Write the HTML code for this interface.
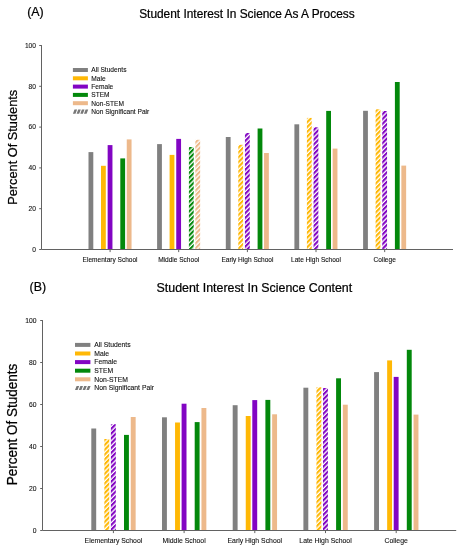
<!DOCTYPE html>
<html><head><meta charset="utf-8"><title>Student Interest</title>
<style>html,body{margin:0;padding:0;background:#fff}svg{display:block}</style></head>
<body>
<svg width="460" height="550" viewBox="0 0 460 550">
<defs>
<pattern id="hg" patternUnits="userSpaceOnUse" width="3.4" height="3.4" patternTransform="rotate(-45)"><rect width="3.4" height="3.4" fill="#fff"/><rect width="3.4" height="2.1" fill="#808080"/></pattern>
<pattern id="ho" patternUnits="userSpaceOnUse" width="3.4" height="3.4" patternTransform="rotate(-45)"><rect width="3.4" height="3.4" fill="#fff"/><rect width="3.4" height="2.1" fill="#FFB805"/></pattern>
<pattern id="hp" patternUnits="userSpaceOnUse" width="3.4" height="3.4" patternTransform="rotate(-45)"><rect width="3.4" height="3.4" fill="#fff"/><rect width="3.4" height="2.1" fill="#8205C3"/></pattern>
<pattern id="hn" patternUnits="userSpaceOnUse" width="3.4" height="3.4" patternTransform="rotate(-45)"><rect width="3.4" height="3.4" fill="#fff"/><rect width="3.4" height="2.1" fill="#03880B"/></pattern>
<pattern id="ht" patternUnits="userSpaceOnUse" width="3.4" height="3.4" patternTransform="rotate(-45)"><rect width="3.4" height="3.4" fill="#fff"/><rect width="3.4" height="2.1" fill="#EDB98B"/></pattern>
<pattern id="hl" patternUnits="userSpaceOnUse" width="2.65" height="2.65" patternTransform="rotate(-45)"><rect width="2.65" height="2.65" fill="#fff"/><rect width="2.65" height="1.9" fill="#777"/></pattern>
</defs>
<rect width="460" height="550" fill="#fff"/>
<rect x="88.50" y="152.10" width="4.8" height="97.40" fill="#808080"/>
<rect x="101.00" y="165.80" width="4.8" height="83.70" fill="#FFB805"/>
<rect x="107.65" y="145.10" width="4.8" height="104.40" fill="#8205C3"/>
<rect x="120.30" y="158.40" width="4.8" height="91.10" fill="#03880B"/>
<rect x="126.75" y="139.40" width="4.8" height="110.10" fill="#EDB98B"/>
<rect x="157.10" y="144.10" width="4.8" height="105.40" fill="#808080"/>
<rect x="169.60" y="154.90" width="4.8" height="94.60" fill="#FFB805"/>
<rect x="176.25" y="138.90" width="4.8" height="110.60" fill="#8205C3"/>
<rect x="188.90" y="147.00" width="4.8" height="102.50" fill="url(#hn)"/>
<rect x="195.35" y="139.80" width="4.8" height="109.70" fill="url(#ht)"/>
<rect x="225.80" y="137.00" width="4.8" height="112.50" fill="#808080"/>
<rect x="238.30" y="144.80" width="4.8" height="104.70" fill="url(#ho)"/>
<rect x="244.95" y="133.00" width="4.8" height="116.50" fill="url(#hp)"/>
<rect x="257.60" y="128.50" width="4.8" height="121.00" fill="#03880B"/>
<rect x="264.05" y="153.00" width="4.8" height="96.50" fill="#EDB98B"/>
<rect x="294.40" y="124.30" width="4.8" height="125.20" fill="#808080"/>
<rect x="306.90" y="117.90" width="4.8" height="131.60" fill="url(#ho)"/>
<rect x="313.55" y="127.30" width="4.8" height="122.20" fill="url(#hp)"/>
<rect x="326.20" y="110.90" width="4.8" height="138.60" fill="#03880B"/>
<rect x="332.65" y="148.60" width="4.8" height="100.90" fill="#EDB98B"/>
<rect x="363.10" y="110.80" width="4.8" height="138.70" fill="#808080"/>
<rect x="375.60" y="109.30" width="4.8" height="140.20" fill="url(#ho)"/>
<rect x="382.25" y="111.00" width="4.8" height="138.50" fill="url(#hp)"/>
<rect x="394.90" y="82.00" width="4.8" height="167.50" fill="#03880B"/>
<rect x="401.35" y="165.60" width="4.8" height="83.90" fill="#EDB98B"/>
<path d="M41.5 45.1V249.5H453" fill="none" stroke="#626262" stroke-width="1"/>
<path d="M39.20 249.50H41.5" stroke="#626262" stroke-width="1"/>
<text x="36.0" y="251.85" text-anchor="end" font-size="6.65" font-family="Liberation Sans, Arial, sans-serif" fill="#111" stroke="#111" stroke-width="0.1">0</text>
<path d="M39.20 208.70H41.5" stroke="#626262" stroke-width="1"/>
<text x="36.0" y="211.05" text-anchor="end" font-size="6.65" font-family="Liberation Sans, Arial, sans-serif" fill="#111" stroke="#111" stroke-width="0.1">20</text>
<path d="M39.20 167.90H41.5" stroke="#626262" stroke-width="1"/>
<text x="36.0" y="170.25" text-anchor="end" font-size="6.65" font-family="Liberation Sans, Arial, sans-serif" fill="#111" stroke="#111" stroke-width="0.1">40</text>
<path d="M39.20 127.10H41.5" stroke="#626262" stroke-width="1"/>
<text x="36.0" y="129.45" text-anchor="end" font-size="6.65" font-family="Liberation Sans, Arial, sans-serif" fill="#111" stroke="#111" stroke-width="0.1">60</text>
<path d="M39.20 86.30H41.5" stroke="#626262" stroke-width="1"/>
<text x="36.0" y="88.65" text-anchor="end" font-size="6.65" font-family="Liberation Sans, Arial, sans-serif" fill="#111" stroke="#111" stroke-width="0.1">80</text>
<path d="M39.20 45.50H41.5" stroke="#626262" stroke-width="1"/>
<text x="36.0" y="47.85" text-anchor="end" font-size="6.65" font-family="Liberation Sans, Arial, sans-serif" fill="#111" stroke="#111" stroke-width="0.1">100</text>
<path d="M110.1 249.5v2.6" stroke="#626262" stroke-width="1"/>
<text x="110.1" y="261.8" text-anchor="middle" font-size="6.55" font-family="Liberation Sans, Arial, sans-serif" fill="#111" stroke="#111" stroke-width="0.1">Elementary School</text>
<path d="M178.7 249.5v2.6" stroke="#626262" stroke-width="1"/>
<text x="178.7" y="261.8" text-anchor="middle" font-size="6.55" font-family="Liberation Sans, Arial, sans-serif" fill="#111" stroke="#111" stroke-width="0.1">Middle School</text>
<path d="M247.4 249.5v2.6" stroke="#626262" stroke-width="1"/>
<text x="247.4" y="261.8" text-anchor="middle" font-size="6.55" font-family="Liberation Sans, Arial, sans-serif" fill="#111" stroke="#111" stroke-width="0.1">Early High School</text>
<path d="M316.0 249.5v2.6" stroke="#626262" stroke-width="1"/>
<text x="316.0" y="261.8" text-anchor="middle" font-size="6.55" font-family="Liberation Sans, Arial, sans-serif" fill="#111" stroke="#111" stroke-width="0.1">Late High School</text>
<path d="M384.7 249.5v2.6" stroke="#626262" stroke-width="1"/>
<text x="384.7" y="261.8" text-anchor="middle" font-size="6.55" font-family="Liberation Sans, Arial, sans-serif" fill="#111" stroke="#111" stroke-width="0.1">College</text>
<text x="27.2" y="15.6" font-size="12.4" font-family="Liberation Sans, Arial, sans-serif" fill="#000" stroke="#000" stroke-width="0.22">(A)</text>
<text x="246.9" y="18.2" text-anchor="middle" font-size="11.9" font-family="Liberation Sans, Arial, sans-serif" fill="#000" stroke="#000" stroke-width="0.22">Student Interest In Science As A Process</text>
<text transform="translate(17.0 147.3) rotate(-90) scale(1 1.05)" text-anchor="middle" font-size="12.8" font-family="Liberation Sans, Arial, sans-serif" fill="#000" stroke="#000" stroke-width="0.22">Percent Of Students</text>
<rect x="72.9" y="68.00" width="15" height="4" fill="#808080"/>
<text x="91.3" y="72.35" font-size="6.6" font-family="Liberation Sans, Arial, sans-serif" fill="#111" stroke="#111" stroke-width="0.1">All Students</text>
<rect x="72.9" y="76.30" width="15" height="4" fill="#FFB805"/>
<text x="91.3" y="80.65" font-size="6.6" font-family="Liberation Sans, Arial, sans-serif" fill="#111" stroke="#111" stroke-width="0.1">Male</text>
<rect x="72.9" y="84.60" width="15" height="4" fill="#8205C3"/>
<text x="91.3" y="88.95" font-size="6.6" font-family="Liberation Sans, Arial, sans-serif" fill="#111" stroke="#111" stroke-width="0.1">Female</text>
<rect x="72.9" y="92.90" width="15" height="4" fill="#03880B"/>
<text x="91.3" y="97.25" font-size="6.6" font-family="Liberation Sans, Arial, sans-serif" fill="#111" stroke="#111" stroke-width="0.1">STEM</text>
<rect x="72.9" y="101.20" width="15" height="4" fill="#EDB98B"/>
<text x="91.3" y="105.55" font-size="6.6" font-family="Liberation Sans, Arial, sans-serif" fill="#111" stroke="#111" stroke-width="0.1">Non-STEM</text>
<path d="M72.90 113.70h2.6l1.6 -4.2h-2.6zM76.60 113.70h2.6l1.6 -4.2h-2.6zM80.30 113.70h2.6l1.6 -4.2h-2.6zM84.00 113.70h2.6l1.6 -4.2h-2.6z" fill="#777"/>
<text x="91.3" y="113.85" font-size="6.6" font-family="Liberation Sans, Arial, sans-serif" fill="#111" stroke="#111" stroke-width="0.1">Non Significant Pair</text>
<rect x="91.30" y="428.50" width="4.9" height="102.00" fill="#808080"/>
<rect x="104.35" y="439.00" width="4.9" height="91.50" fill="url(#ho)"/>
<rect x="110.90" y="424.20" width="4.9" height="106.30" fill="url(#hp)"/>
<rect x="124.00" y="434.90" width="4.9" height="95.60" fill="#03880B"/>
<rect x="130.75" y="417.00" width="4.9" height="113.50" fill="#EDB98B"/>
<rect x="162.00" y="417.30" width="4.9" height="113.20" fill="#808080"/>
<rect x="175.05" y="422.50" width="4.9" height="108.00" fill="#FFB805"/>
<rect x="181.60" y="403.70" width="4.9" height="126.80" fill="#8205C3"/>
<rect x="194.70" y="422.10" width="4.9" height="108.40" fill="#03880B"/>
<rect x="201.45" y="408.00" width="4.9" height="122.50" fill="#EDB98B"/>
<rect x="232.70" y="405.20" width="4.9" height="125.30" fill="#808080"/>
<rect x="245.75" y="416.00" width="4.9" height="114.50" fill="#FFB805"/>
<rect x="252.30" y="400.10" width="4.9" height="130.40" fill="#8205C3"/>
<rect x="265.40" y="399.90" width="4.9" height="130.60" fill="#03880B"/>
<rect x="272.15" y="414.30" width="4.9" height="116.20" fill="#EDB98B"/>
<rect x="303.40" y="387.70" width="4.9" height="142.80" fill="#808080"/>
<rect x="316.45" y="387.30" width="4.9" height="143.20" fill="url(#ho)"/>
<rect x="323.00" y="388.00" width="4.9" height="142.50" fill="url(#hp)"/>
<rect x="336.10" y="378.30" width="4.9" height="152.20" fill="#03880B"/>
<rect x="342.85" y="404.70" width="4.9" height="125.80" fill="#EDB98B"/>
<rect x="374.10" y="372.10" width="4.9" height="158.40" fill="#808080"/>
<rect x="387.15" y="360.40" width="4.9" height="170.10" fill="#FFB805"/>
<rect x="393.70" y="376.90" width="4.9" height="153.60" fill="#8205C3"/>
<rect x="406.80" y="349.80" width="4.9" height="180.70" fill="#03880B"/>
<rect x="413.55" y="414.60" width="4.9" height="115.90" fill="#EDB98B"/>
<path d="M42.5 320.1V530.5H456.2" fill="none" stroke="#626262" stroke-width="1"/>
<path d="M40.20 530.50H42.5" stroke="#626262" stroke-width="1"/>
<text x="36.6" y="532.60" text-anchor="end" font-size="6.75" font-family="Liberation Sans, Arial, sans-serif" fill="#111" stroke="#111" stroke-width="0.1">0</text>
<path d="M40.20 488.50H42.5" stroke="#626262" stroke-width="1"/>
<text x="36.6" y="490.60" text-anchor="end" font-size="6.75" font-family="Liberation Sans, Arial, sans-serif" fill="#111" stroke="#111" stroke-width="0.1">20</text>
<path d="M40.20 446.50H42.5" stroke="#626262" stroke-width="1"/>
<text x="36.6" y="448.60" text-anchor="end" font-size="6.75" font-family="Liberation Sans, Arial, sans-serif" fill="#111" stroke="#111" stroke-width="0.1">40</text>
<path d="M40.20 404.50H42.5" stroke="#626262" stroke-width="1"/>
<text x="36.6" y="406.60" text-anchor="end" font-size="6.75" font-family="Liberation Sans, Arial, sans-serif" fill="#111" stroke="#111" stroke-width="0.1">60</text>
<path d="M40.20 362.50H42.5" stroke="#626262" stroke-width="1"/>
<text x="36.6" y="364.60" text-anchor="end" font-size="6.75" font-family="Liberation Sans, Arial, sans-serif" fill="#111" stroke="#111" stroke-width="0.1">80</text>
<path d="M40.20 320.50H42.5" stroke="#626262" stroke-width="1"/>
<text x="36.6" y="322.60" text-anchor="end" font-size="6.75" font-family="Liberation Sans, Arial, sans-serif" fill="#111" stroke="#111" stroke-width="0.1">100</text>
<path d="M113.4 530.5v2.6" stroke="#626262" stroke-width="1"/>
<text x="113.4" y="543.0" text-anchor="middle" font-size="6.88" font-family="Liberation Sans, Arial, sans-serif" fill="#111" stroke="#111" stroke-width="0.1">Elementary School</text>
<path d="M184.1 530.5v2.6" stroke="#626262" stroke-width="1"/>
<text x="184.1" y="543.0" text-anchor="middle" font-size="6.88" font-family="Liberation Sans, Arial, sans-serif" fill="#111" stroke="#111" stroke-width="0.1">Middle School</text>
<path d="M254.8 530.5v2.6" stroke="#626262" stroke-width="1"/>
<text x="254.8" y="543.0" text-anchor="middle" font-size="6.88" font-family="Liberation Sans, Arial, sans-serif" fill="#111" stroke="#111" stroke-width="0.1">Early High School</text>
<path d="M325.5 530.5v2.6" stroke="#626262" stroke-width="1"/>
<text x="325.5" y="543.0" text-anchor="middle" font-size="6.88" font-family="Liberation Sans, Arial, sans-serif" fill="#111" stroke="#111" stroke-width="0.1">Late High School</text>
<path d="M396.2 530.5v2.6" stroke="#626262" stroke-width="1"/>
<text x="396.2" y="543.0" text-anchor="middle" font-size="6.88" font-family="Liberation Sans, Arial, sans-serif" fill="#111" stroke="#111" stroke-width="0.1">College</text>
<text x="29.5" y="290.6" font-size="12.4" font-family="Liberation Sans, Arial, sans-serif" fill="#000" stroke="#000" stroke-width="0.22">(B)</text>
<text x="254.4" y="292.2" text-anchor="middle" font-size="12.4" font-family="Liberation Sans, Arial, sans-serif" fill="#000" stroke="#000" stroke-width="0.22">Student Interest In Science Content</text>
<text transform="translate(16.9 424.6) rotate(-90) scale(1 1.05)" text-anchor="middle" font-size="13.5" font-family="Liberation Sans, Arial, sans-serif" fill="#000" stroke="#000" stroke-width="0.22">Percent Of Students</text>
<rect x="75.0" y="342.90" width="15.4" height="4" fill="#808080"/>
<text x="94.3" y="347.25" font-size="6.8" font-family="Liberation Sans, Arial, sans-serif" fill="#111" stroke="#111" stroke-width="0.1">All Students</text>
<rect x="75.0" y="351.50" width="15.4" height="4" fill="#FFB805"/>
<text x="94.3" y="355.85" font-size="6.8" font-family="Liberation Sans, Arial, sans-serif" fill="#111" stroke="#111" stroke-width="0.1">Male</text>
<rect x="75.0" y="360.10" width="15.4" height="4" fill="#8205C3"/>
<text x="94.3" y="364.45" font-size="6.8" font-family="Liberation Sans, Arial, sans-serif" fill="#111" stroke="#111" stroke-width="0.1">Female</text>
<rect x="75.0" y="368.70" width="15.4" height="4" fill="#03880B"/>
<text x="94.3" y="373.05" font-size="6.8" font-family="Liberation Sans, Arial, sans-serif" fill="#111" stroke="#111" stroke-width="0.1">STEM</text>
<rect x="75.0" y="377.30" width="15.4" height="4" fill="#EDB98B"/>
<text x="94.3" y="381.65" font-size="6.8" font-family="Liberation Sans, Arial, sans-serif" fill="#111" stroke="#111" stroke-width="0.1">Non-STEM</text>
<path d="M75.00 390.10h2.6l1.6 -4.2h-2.6zM78.80 390.10h2.6l1.6 -4.2h-2.6zM82.60 390.10h2.6l1.6 -4.2h-2.6zM86.40 390.10h2.6l1.6 -4.2h-2.6z" fill="#777"/>
<text x="94.3" y="390.25" font-size="6.8" font-family="Liberation Sans, Arial, sans-serif" fill="#111" stroke="#111" stroke-width="0.1">Non Significant Pair</text>
</svg>
</body></html>
